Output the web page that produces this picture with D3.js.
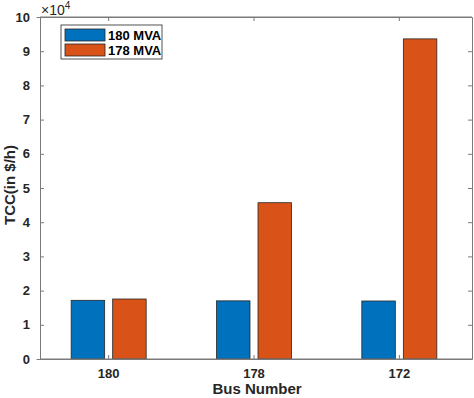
<!DOCTYPE html>
<html>
<head>
<meta charset="utf-8">
<script src="https://cdn.jsdelivr.net/npm/d3@7"></script>
<style>
  body { margin: 0; background: #fff; overflow: hidden; }
  svg { display: block; }
  svg text { font-family: "Liberation Sans", Arial, sans-serif; }
</style>
</head>
<body>
<div id="chart"></div>
<script>
// data
var buses = ["180", "178", "172"]
var seriesNames = ["180 MVA", "178 MVA"]
var mva180 = [17160, 17000, 16960]
var mva178 = [17540, 45700, 93600]
var yTicks = [0, 1, 2, 3, 4, 5, 6, 7, 8, 9, 10]

var color = ["#0072BD", "#D95319"]
var axisColor = "#7a7a7a"

var width = 474
var height = 398
var margin = { top: 17, right: 2, bottom: 39, left: 40 }
var innerWidth = width - margin.left - margin.right
var innerHeight = height - margin.top - margin.bottom

var svg = d3.select("#chart")
    .append("svg")
    .attr("width", width)
    .attr("height", height)

var g = svg.append("g")
    .attr("transform", "translate(" + margin.left + "," + margin.top + ")")

// scales
var xScale = d3.scaleBand()
    .domain(buses)
    .range([-4, innerWidth])
    .paddingOuter(0)
    .paddingInner(0)

var xSub = d3.scaleBand()
    .domain(seriesNames)
    .range([xScale.bandwidth() / 2 - 37.5, xScale.bandwidth() / 2 + 37.5])
    .paddingInner(0.193)

var yScale = d3.scaleLinear()
    .domain([0, 100000])
    .range([innerHeight, 0])

// bars
var rows = buses.map(function (b, i) {
    return { bus: b, values: [mva180[i], mva178[i]] }
})

var groups = g.selectAll(".group")
    .data(rows)
    .enter()
    .append("g")
    .attr("class", "group")
    .attr("transform", function (d) { return "translate(" + xScale(d.bus) + ",0)" })

groups.selectAll("rect")
    .data(function (d) { return d.values.map(function (v, j) { return { name: seriesNames[j], value: v, j: j } }) })
    .enter()
    .append("rect")
    .attr("x", function (d) { return xSub(d.name) })
    .attr("y", function (d) { return yScale(d.value) })
    .attr("width", xSub.bandwidth())
    .attr("height", function (d) { return innerHeight - yScale(d.value) })
    .attr("fill", function (d) { return color[d.j] })
    .attr("stroke", "#262626")
    .attr("stroke-width", 0.8)

// axes (ticks inward, box)
var yAxis = d3.axisLeft(yScale)
    .tickValues(yTicks.map(function (t) { return t * 10000 }))
    .tickFormat(function (d) { return d / 10000 })
    .tickSizeInner(-4)
    .tickSizeOuter(0)
    .tickPadding(10)

var yAxisRight = d3.axisRight(yScale)
    .tickValues(yTicks.map(function (t) { return t * 10000 }))
    .tickSizeInner(-4)
    .tickSizeOuter(0)

var xAxis = d3.axisBottom(xScale)
    .tickSizeInner(-4)
    .tickSizeOuter(0)
    .tickPadding(10)

var xAxisTop = d3.axisTop(xScale)
    .tickSizeInner(-4)
    .tickSizeOuter(0)

g.append("g").attr("class", "axis").call(yAxis)
g.append("g").attr("class", "axis box").attr("transform", "translate(" + innerWidth + ",0)").call(yAxisRight)
g.append("g").attr("class", "axis").attr("transform", "translate(0," + innerHeight + ")").call(xAxis)
g.append("g").attr("class", "axis box").call(xAxisTop)

// box sides carry no labels
g.selectAll(".box text").remove()
// top and bottom lines span the full plot
g.append("line")
    .attr("x1", 0).attr("x2", innerWidth)
    .attr("y1", 0).attr("y2", 0)
    .attr("stroke", axisColor)
g.append("line")
    .attr("x1", 0).attr("x2", innerWidth)
    .attr("y1", innerHeight).attr("y2", innerHeight)
    .attr("stroke", axisColor)

g.selectAll(".axis path, .axis line").attr("stroke", axisColor)
g.selectAll(".axis text")
    .attr("fill", "#262626")
    .style("font-size", "13px")
    .style("font-weight", "bold")

// exponent label
g.append("text")
    .attr("x", 1)
    .attr("y", -2)
    .attr("fill", "#262626")
    .style("font-size", "14px")
    .text("\u00d710")
    .append("tspan")
    .attr("dy", -6)
    .style("font-size", "10px")
    .text("4")

// axis labels
svg.append("text")
    .attr("x", margin.left + innerWidth / 2 + 1)
    .attr("y", 394)
    .attr("text-anchor", "middle")
    .attr("fill", "#262626")
    .style("font-size", "15px")
    .style("font-weight", "bold")
    .text("Bus Number")

svg.append("text")
    .attr("text-anchor", "middle")
    .attr("transform", "translate(15," + (margin.top + innerHeight / 2 - 3) + ")rotate(-90)")
    .attr("fill", "#262626")
    .style("font-size", "15px")
    .style("font-weight", "bold")
    .text("TCC(in $/h)")

// legend
var legend = svg.append("g")
    .attr("transform", "translate(61,25)")

legend.append("rect")
    .attr("width", 101)
    .attr("height", 34)
    .attr("fill", "#fff")
    .attr("stroke", "#262626")
    .attr("stroke-width", 0.8)

seriesNames.forEach(function (name, i) {
    legend.append("rect")
        .attr("x", 4)
        .attr("y", 4 + i * 15)
        .attr("width", 40)
        .attr("height", 12)
        .attr("fill", color[i])
        .attr("stroke", "#262626")
        .attr("stroke-width", 0.8)
    legend.append("text")
        .attr("x", 47)
        .attr("y", 15 + i * 15)
        .attr("fill", "#000")
        .style("font-size", "13px")
        .style("font-weight", "bold")
        .text(name)
})
</script>
</body>
</html>
